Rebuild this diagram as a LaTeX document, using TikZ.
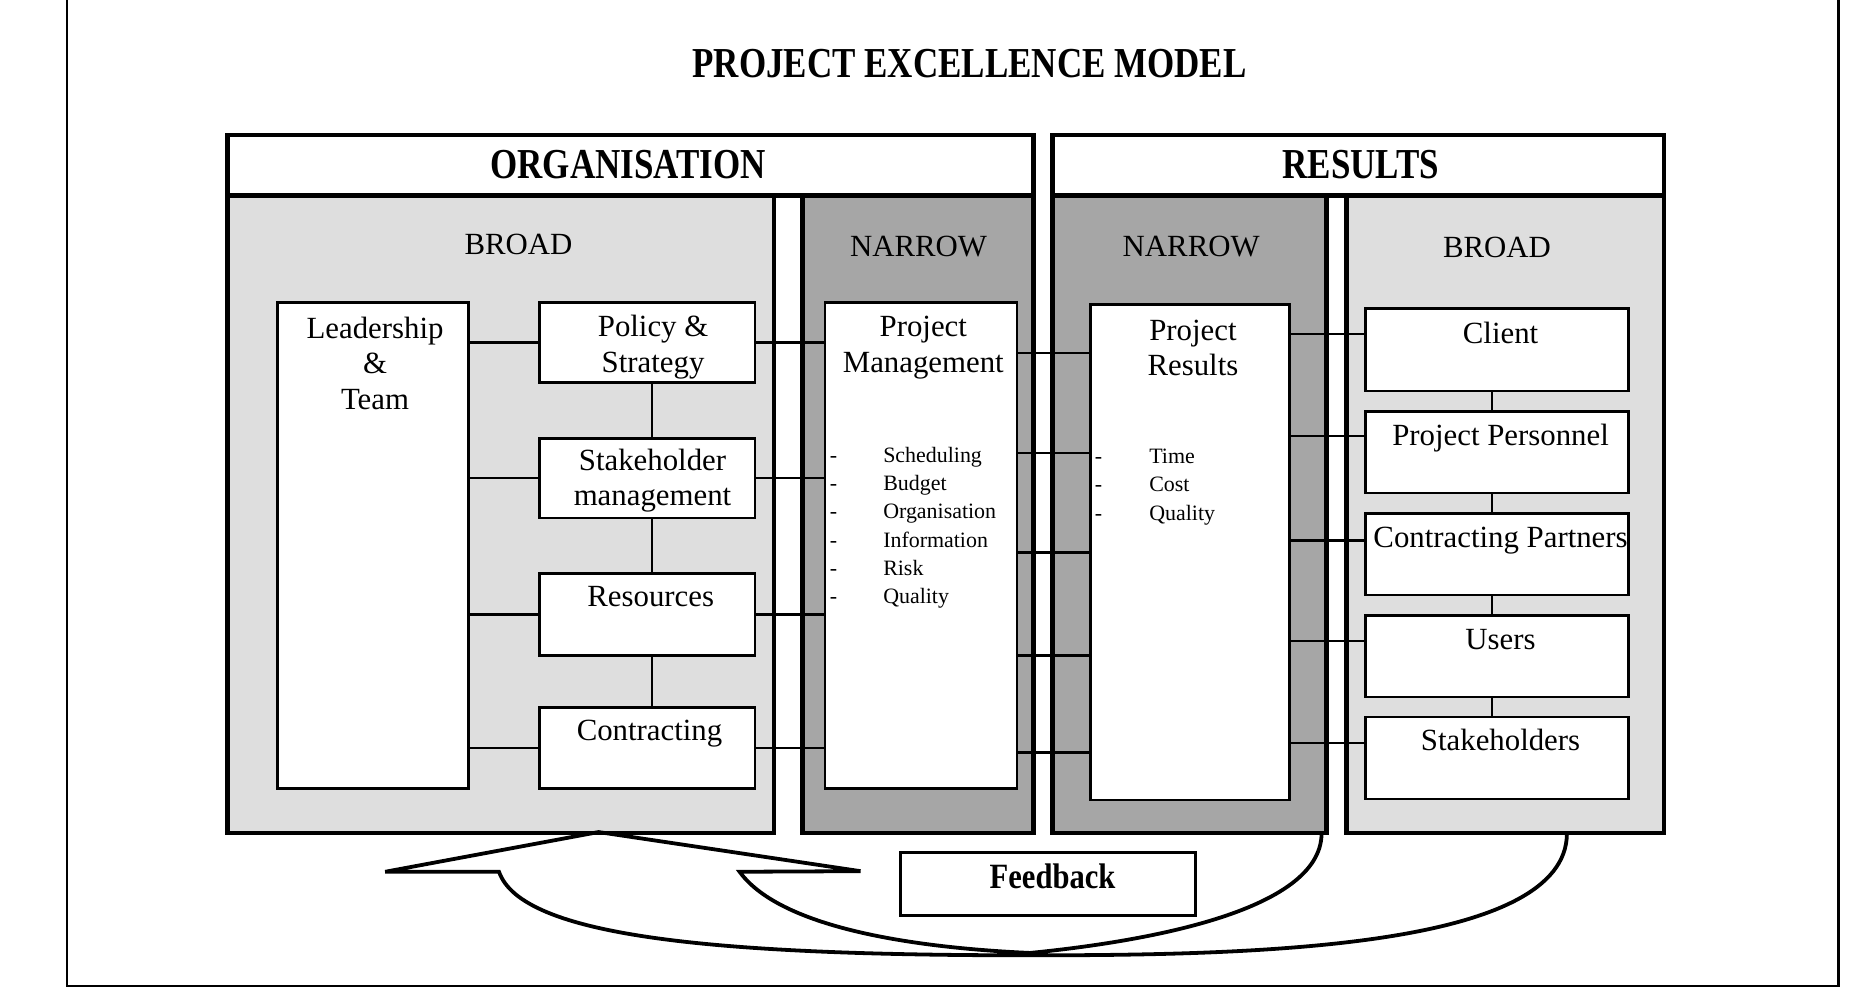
\documentclass[tikz,border=0pt]{standalone}
\usepackage{fontspec}
\setmainfont{Liberation Serif}
\newfontfamily\hdfont[FakeStretch=0.82]{Liberation Serif}
\newfontfamily\fbfont[FakeStretch=0.86]{Liberation Serif}
\definecolor{lightg}{gray}{0.87}
\definecolor{darkg}{gray}{0.65}
\tikzset{
  regionline/.style={line width=3.8pt, line join=miter},
  box/.style={draw, fill=white, line width=2.3pt, inner sep=0pt, outer sep=0pt, anchor=north west},
  conn/.style={line width=2pt},
  lbl/.style={inner sep=0pt, font=\fontsize{26}{30}\selectfont},
  lst/.style={inner sep=0pt, anchor=north west, align=left, font=\fontsize{18.5}{23.8}\selectfont},
  hdr/.style={inner sep=0pt, anchor=base, font=\hdfont\fontsize{36}{40}\selectfont\bfseries},
  fbline/.style={line width=3.2pt, line join=miter, miter limit=3}
}
\begin{document}
\begin{tikzpicture}[x=1pt,y=-1pt]
\useasboundingbox (0,0) rectangle (1560,850.4);
% outer frame (open at top)
\draw[line width=2pt] (56.3,0) -- (56.3,832) -- (1551,832) -- (1551,0);

% title
\node[hdr] (title) at (818,65) {PROJECT EXCELLENCE MODEL};

% regions
\draw[regionline, fill=lightg] (192,165) rectangle (653,703);
\draw[regionline, fill=darkg] (677,165) rectangle (872,703);
\draw[regionline, fill=darkg] (888,165) rectangle (1119,703);
\draw[regionline, fill=lightg] (1136,165) rectangle (1404,703);
% headers
\draw[regionline, fill=white] (192,114) rectangle (872,165);
\draw[regionline, fill=white] (888,114) rectangle (1404,165);
\node[hdr] (org) at (530,151) {ORGANISATION};
\node[hdr] (res) at (1148,151) {RESULTS};

% region labels
\node[lbl, anchor=base] (broadl) at (437.5,215) {BROAD};
\node[lbl, anchor=base] (narrowl) at (775,216.5) {NARROW};
\node[lbl, anchor=base] (narrowr) at (1005,216.5) {NARROW};
\node[lbl, anchor=base] (broadr) at (1263,217) {BROAD};

% level coordinates
\coordinate (vl) at (550,0);
\coordinate (vr) at (1259,0);
\coordinate (m1) at (0,298);
\coordinate (m2) at (0,382);
\coordinate (m3) at (0,466);
\coordinate (m4) at (0,553);
\coordinate (m5) at (0,635);
\coordinate (r1) at (0,282);
\coordinate (r2) at (0,368);
\coordinate (r3) at (0,456);
\coordinate (r4) at (0,541);
\coordinate (r5) at (0,627);

% boxes (geometry only, drawn after connectors)
\path
  node[box, minimum width=161, minimum height=410] (lead) at (234,255) {}
  node[box, minimum width=182, minimum height=68] (pol) at (455,255) {}
  node[box, minimum width=182, minimum height=67] (stk) at (455,370) {}
  node[box, minimum width=182, minimum height=69] (rsc) at (455,484) {}
  node[box, minimum width=182, minimum height=68] (con) at (455,597) {}
  node[box, minimum width=162, minimum height=410] (pm) at (696,255) {}
  node[box, minimum width=168, minimum height=418] (pr) at (920,257) {}
  node[box, minimum width=222, minimum height=69.5] (cl) at (1152,260.5) {}
  node[box, minimum width=222, minimum height=69] (pp) at (1152,347) {}
  node[box, minimum width=222, minimum height=69] (cp) at (1152,433) {}
  node[box, minimum width=222, minimum height=69] (us) at (1152,519) {}
  node[box, minimum width=222, minimum height=69] (sh) at (1152,605) {};

% connectors
\draw[conn] (lead.east |- pol.west) -- (pol.west);
\draw[conn] (lead.east |- stk.west) -- (stk.west);
\draw[conn] (lead.east |- rsc.west) -- (rsc.west);
\draw[conn] (lead.east |- con.west) -- (con.west);
\draw[conn] (pol.east) -- (pm.west |- pol.east);
\draw[conn] (stk.east) -- (pm.west |- stk.east);
\draw[conn] (rsc.east) -- (pm.west |- rsc.east);
\draw[conn] (con.east) -- (pm.west |- con.east);
\draw[conn] (pol.south -| vl) -- (stk.north -| vl);
\draw[conn] (stk.south -| vl) -- (rsc.north -| vl);
\draw[conn] (rsc.south -| vl) -- (con.north -| vl);
\draw[conn] (pm.east |- m1) -- (pr.west |- m1);
\draw[conn] (pm.east |- m2) -- (pr.west |- m2);
\draw[conn] (pm.east |- m3) -- (pr.west |- m3);
\draw[conn] (pm.east |- m4) -- (pr.west |- m4);
\draw[conn] (pm.east |- m5) -- (pr.west |- m5);
\draw[conn] (pr.east |- r1) -- (cl.west |- r1);
\draw[conn] (pr.east |- r2) -- (pp.west |- r2);
\draw[conn] (pr.east |- r3) -- (cp.west |- r3);
\draw[conn] (pr.east |- r4) -- (us.west |- r4);
\draw[conn] (pr.east |- r5) -- (sh.west |- r5);
\draw[conn] (cl.south -| vr) -- (pp.north -| vr);
\draw[conn] (pp.south -| vr) -- (cp.north -| vr);
\draw[conn] (cp.south -| vr) -- (us.north -| vr);
\draw[conn] (us.south -| vr) -- (sh.north -| vr);

% redraw boxes on top
\foreach \b in {lead,pol,stk,rsc,con,pm,pr,cl,pp,cp,us,sh}{
  \draw[line width=2.3pt, fill=white] (\b.north west) rectangle (\b.south east);
}

% box labels
\node[lbl, anchor=north, align=center] (leadt) at (316.4,264) {\strut Leadership\\\&\\Team};
\node[lbl, anchor=north, align=center] (polt) at (551,263) {\strut Policy \&\\Strategy};
\node[lbl, anchor=north, align=center] (stkt) at (550.5,375.6) {\strut Stakeholder\\management};
\node[lbl, anchor=base] (rsct) at (549,512) {Resources};
\node[lbl, anchor=base] (cont) at (548,625) {Contracting};
\node[lbl, anchor=north, align=center] (pmt) at (779,263) {\strut Project\\Management};
\node[lbl, anchor=north, align=center] (prt) at (1006.5,266) {\strut Project\\Results};
\node[lbl, anchor=base] (clt) at (1266,289.5) {Client};
\node[lbl, anchor=base] (ppt) at (1266,375.5) {Project Personnel};
\node[lbl, anchor=base] (cpt) at (1266,461.5) {Contracting Partners};
\node[lbl, anchor=base] (ust) at (1266,548) {Users};
\node[lbl, anchor=base] (sht) at (1266,633) {Stakeholders};

% lists
\node[lst] (pmdash) at (700,373.3) {\strut -\\-\\-\\-\\-\\-};
\node[lst] (pmlist) at (745,373.3) {\strut Scheduling\\Budget\\Organisation\\Information\\Risk\\Quality};
\node[lst] (prdash) at (923.5,374.3) {\strut -\\-\\-};
\node[lst] (prlist) at (969.5,374.3) {\strut Time\\Cost\\Quality};

% feedback box
\node[draw, fill=white, line width=2.5pt, inner sep=0pt, outer sep=0pt, anchor=north west,
      minimum width=249, minimum height=53] (fb) at (760,719) {};
\node[inner sep=0pt, anchor=base, font=\fbfont\fontsize{30}{34}\selectfont\bfseries] (fbt) at (888,749.5) {Feedback};

% feedback arrow
\coordinate (tip) at (505,702);
\coordinate (lb) at (325,735.5);
\coordinate (ln) at (421,735.5);
\coordinate (rb) at (726,735);
\coordinate (rn) at (624,735.5);
\coordinate (ob) at (869,806);
\coordinate (ib) at (869,804);
\coordinate (oe) at (1322,703);
\coordinate (ie) at (1115,703);
\draw[fbline] (oe) .. controls (1322,800) and (1060,806) .. (ob)
  .. controls (600,806) and (440,790) .. (ln) -- (lb) -- (tip) -- (rb) -- (rn)
  .. controls (660,785) and (780,800) .. (ib)
  .. controls (960,795) and (1115,770) .. (ie);
\end{tikzpicture}
\end{document}
